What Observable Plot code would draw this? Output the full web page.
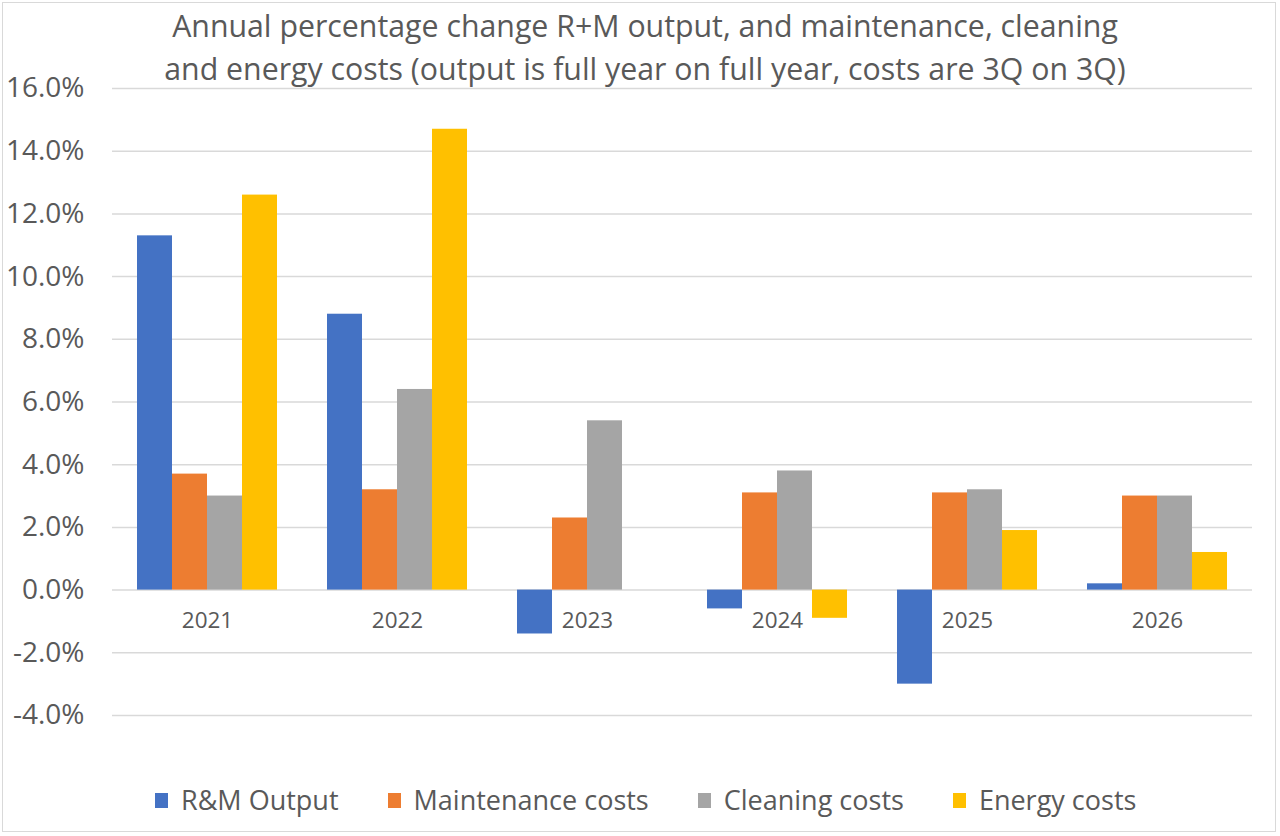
<!DOCTYPE html>
<html>
<head>
<meta charset="utf-8">
<script src="https://cdn.jsdelivr.net/npm/d3@7"></script>
<script src="https://cdn.jsdelivr.net/npm/@observablehq/plot@0.6"></script>
<style>
  html, body { margin: 0; padding: 0; background: #fff; }
  #wrap { position: relative; width: 1280px; height: 836px; overflow: hidden; font-family: "Open Sans", sans-serif; color: #595959; }
  #frame { position: absolute; left: 2px; top: 2px; width: 1274px; height: 830px; border: 1px solid #d9d9d9; box-sizing: border-box; pointer-events: none; }
  #title { position: absolute; left: 0; top: 4px; width: 1290px; text-align: center; font-size: 30.3px; line-height: 43px; color: #595959; white-space: nowrap; }
  #chart { position: absolute; left: 0; top: 0; }
  #legend { position: absolute; left: 155px; top: 781px; display: flex; gap: 49px; font-size: 27px; line-height: 38px; color: #595959; white-space: nowrap; }
  .item { display: flex; align-items: center; }
  .sw { width: 13px; height: 15px; margin-right: 13px; }
</style>
</head>
<body>
<div id="wrap">
  <div id="chart"></div>
  <div id="title">Annual percentage change R+M output, and maintenance, cleaning<br>and energy costs (output is full year on full year, costs are 3Q on 3Q)</div>
  <div id="legend"></div>
  <div id="frame"></div>
</div>
<script>
const years = ["2021", "2022", "2023", "2024", "2025", "2026"];
const series = ["R&M Output", "Maintenance costs", "Cleaning costs", "Energy costs"];
const rmOutput = [11.3, 8.8, -1.4, -0.6, -3.0, 0.2];
const maintenanceCosts = [3.7, 3.2, 2.3, 3.1, 3.1, 3.0];
const cleaningCosts = [3.0, 6.4, 5.4, 3.8, 3.2, 3.0];
const energyCosts = [12.6, 14.7, 0.0, -0.9, 1.9, 1.2];
const yTicks = [-4, -2, 0, 2, 4, 6, 8, 10, 12, 14, 16];
const colors = ["#4472C4", "#ED7D31", "#A5A5A5", "#FFC000"];

const seriesValues = [rmOutput, maintenanceCosts, cleaningCosts, energyCosts];
const table = [];
years.forEach((y, i) => {
  series.forEach((s, j) => table.push({year: y, series: s, value: seriesValues[j][i]}));
});

const chart = Plot.plot({
  width: 1280,
  height: 760,
  marginTop: 88,
  marginBottom: 45,
  marginLeft: 112,
  marginRight: 28,
  style: {fontFamily: "Open Sans, sans-serif", color: "#595959", background: "transparent"},
  fx: {domain: years, padding: 0, axis: null, label: null},
  x: {domain: series, paddingInner: 0, paddingOuter: 0.714, axis: null, label: null},
  y: {domain: [-4, 16], label: null},
  color: {domain: series, range: colors},
  marks: [
    Plot.gridY(yTicks, {stroke: "#d9d9d9", strokeOpacity: 1, strokeWidth: 1.5}),
    Plot.axisY(yTicks, {tickSize: 0, tickPadding: 28, fontSize: 28, fill: "#595959", tickFormat: d => d.toFixed(1) + "%", label: null}),
    Plot.barY(table, {fx: "year", x: "series", y: "value", fill: "series"}),
    Plot.text(years, {fx: d => d, y: () => 0, text: d => d, dy: 31, fontSize: 22.5, fill: "#595959"})
  ]
});
document.getElementById("chart").appendChild(chart);

const legend = document.getElementById("legend");
series.forEach((s, i) => {
  const it = document.createElement("div");
  it.className = "item";
  const sw = document.createElement("div");
  sw.className = "sw";
  sw.style.background = colors[i];
  const t = document.createElement("span");
  t.textContent = s;
  it.appendChild(sw);
  it.appendChild(t);
  legend.appendChild(it);
});
</script>
</body>
</html>
